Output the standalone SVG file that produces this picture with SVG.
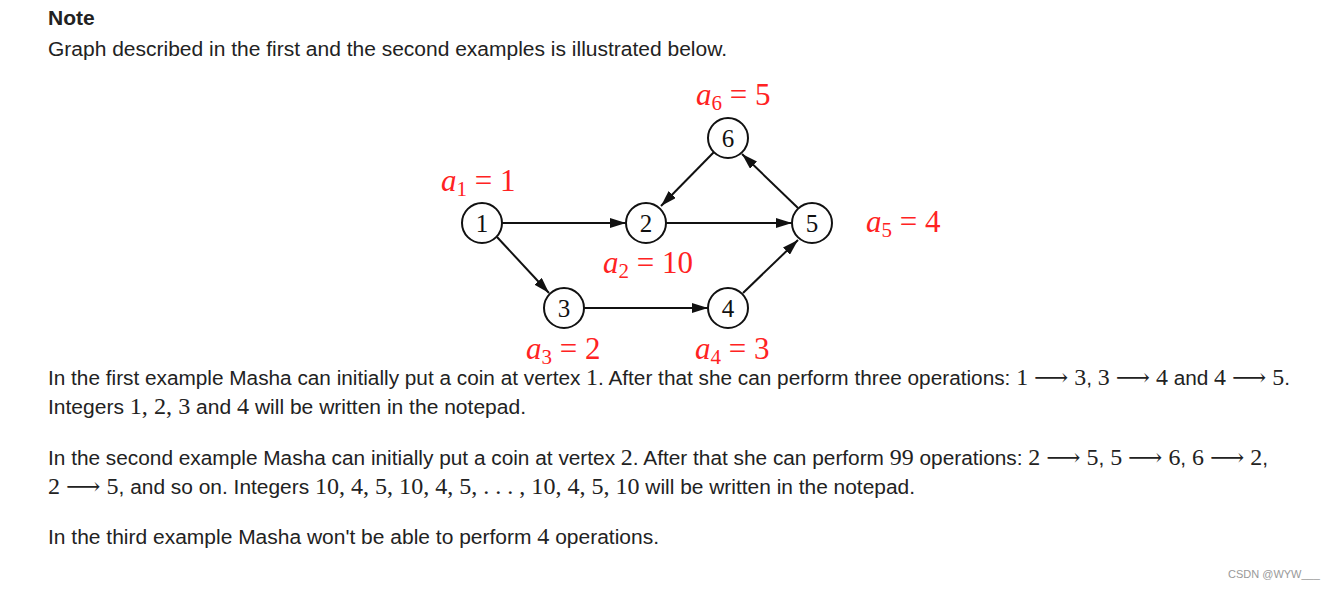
<svg xmlns="http://www.w3.org/2000/svg" width="1332" height="589" viewBox="0 0 1332 589">
<defs>
<style>
.t{font-family:"Liberation Sans",Arial,sans-serif;font-size:20px;fill:#222}
.m{font-family:"Liberation Serif","DejaVu Serif",serif;font-size:23px}
.n circle{fill:#fff;stroke:#111;stroke-width:2}
.n text{font-family:"Liberation Serif",serif;font-size:25px;text-anchor:middle;fill:#111}
.lab{font-family:"Liberation Serif",serif;font-size:31px;fill:#f22}
.lab .s{font-size:21px}
.e line{stroke:#111;stroke-width:2;marker-end:url(#ar)}
</style>
<marker id="ar" viewBox="0 0 16 10" refX="16" refY="5" markerWidth="16" markerHeight="10" markerUnits="userSpaceOnUse" orient="auto"><path d="M0,0L16,5L0,10z" fill="#111"/></marker>
</defs>
<rect width="1332" height="589" fill="#fff"/>
<text x="48" y="25" font-family="Liberation Sans,Arial,sans-serif" font-size="21" font-weight="bold" fill="#222">Note</text>
<text class="t" x="48" y="56" textLength="679" lengthAdjust="spacingAndGlyphs">Graph described in the first and the second examples is illustrated below.</text>
<g id="connectors" class="e">
<line x1="502" y1="223" x2="626" y2="223"/>
<line x1="666" y1="223" x2="792" y2="223"/>
<line x1="714" y1="152" x2="661" y2="206"/>
<line x1="798" y1="208" x2="742" y2="154"/>
<line x1="497" y1="237" x2="549" y2="293"/>
<line x1="584" y1="308" x2="708" y2="308"/>
<line x1="743" y1="293" x2="798" y2="240"/>
</g>
<g id="n1" class="n"><circle cx="482" cy="223" r="20"/><text x="482" y="232">1</text></g>
<g id="n2" class="n"><circle cx="646" cy="223" r="20"/><text x="646" y="232">2</text></g>
<g id="n3" class="n"><circle cx="564" cy="308" r="20"/><text x="564" y="317">3</text></g>
<g id="n4" class="n"><circle cx="728" cy="308" r="20"/><text x="728" y="317">4</text></g>
<g id="n5" class="n"><circle cx="812" cy="223" r="20"/><text x="812" y="232">5</text></g>
<g id="n6" class="n"><circle cx="728" cy="138" r="20"/><text x="728" y="147">6</text></g>
<text class="lab" x="441" y="191"><tspan font-style="italic">a</tspan><tspan class="s" dy="5">1</tspan><tspan dy="-5"> = 1</tspan></text>
<text class="lab" x="696" y="105"><tspan font-style="italic">a</tspan><tspan class="s" dy="5">6</tspan><tspan dy="-5"> = 5</tspan></text>
<text class="lab" x="866" y="232"><tspan font-style="italic">a</tspan><tspan class="s" dy="5">5</tspan><tspan dy="-5"> = 4</tspan></text>
<text class="lab" x="603" y="273"><tspan font-style="italic">a</tspan><tspan class="s" dy="5">2</tspan><tspan dy="-5"> = 10</tspan></text>
<text class="lab" x="526" y="359"><tspan font-style="italic">a</tspan><tspan class="s" dy="5">3</tspan><tspan dy="-5"> = 2</tspan></text>
<text class="lab" x="695" y="359"><tspan font-style="italic">a</tspan><tspan class="s" dy="5">4</tspan><tspan dy="-5"> = 3</tspan></text>
<text class="t" x="48" y="385" textLength="1242" lengthAdjust="spacingAndGlyphs">In the first example Masha can initially put a coin at vertex <tspan class="m">1</tspan>. After that she can perform three operations: <tspan class="m">1 ⟶ 3</tspan>, <tspan class="m">3 ⟶ 4</tspan> and <tspan class="m">4 ⟶ 5</tspan>.</text>
<text class="t" x="48" y="414" textLength="478" lengthAdjust="spacingAndGlyphs">Integers <tspan class="m">1, 2, 3</tspan> and <tspan class="m">4</tspan> will be written in the notepad.</text>
<text class="t" x="48" y="465" textLength="1220" lengthAdjust="spacingAndGlyphs">In the second example Masha can initially put a coin at vertex <tspan class="m">2</tspan>. After that she can perform <tspan class="m">99</tspan> operations: <tspan class="m">2 ⟶ 5</tspan>, <tspan class="m">5 ⟶ 6</tspan>, <tspan class="m">6 ⟶ 2</tspan>,</text>
<text class="t" x="48" y="494" textLength="867" lengthAdjust="spacingAndGlyphs"><tspan class="m">2 ⟶ 5</tspan>, and so on. Integers <tspan class="m">10, 4, 5, 10, 4, 5, . . . , 10, 4, 5, 10</tspan> will be written in the notepad.</text>
<text class="t" x="48" y="544" textLength="611" lengthAdjust="spacingAndGlyphs">In the third example Masha won't be able to perform <tspan class="m">4</tspan> operations.</text>
<text x="1228" y="578" font-family="Liberation Sans,Arial,sans-serif" font-size="11" fill="#999">CSDN @WYW___</text>
</svg>
